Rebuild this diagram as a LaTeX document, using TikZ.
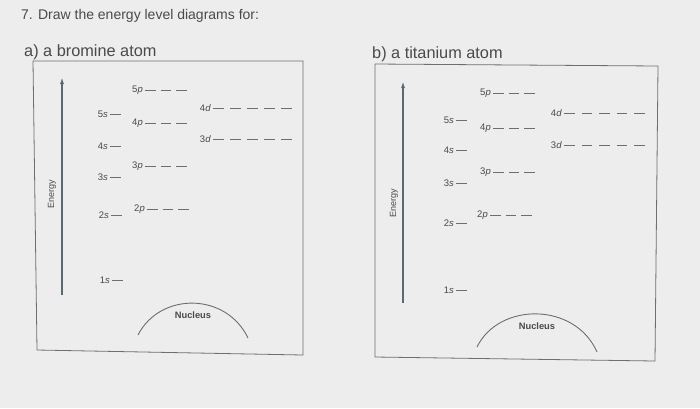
\documentclass[tikz,border=0pt]{standalone}
\usepackage{fontspec}
\setmainfont{Liberation Sans}
\usetikzlibrary{arrows.meta}
\definecolor{bg}{HTML}{EDEDED}
\definecolor{ink}{HTML}{4A4A4A}
\definecolor{linec}{HTML}{6E6E6E}
\definecolor{axisc}{HTML}{5C6870}
\tikzset{
  lab/.style={font=\fontsize{9.5}{10}\selectfont, text=ink, inner sep=1pt, anchor=east},
  lvl/.style={draw=linec, line width=0.9pt},
  frame/.style={draw=linec, line width=0.8pt},
  axis/.style={draw=axisc, line width=1.4pt, -{Latex[length=7pt,width=4pt]}},
  title/.style={font=\fontsize{14}{16}\selectfont, text=ink, inner sep=0pt, anchor=base west},
  subtitle/.style={font=\fontsize{16.3}{18}\selectfont, text=ink, inner sep=0pt, anchor=base west},
  nuc/.style={font=\bfseries\fontsize{9.3}{10}\selectfont, text=ink, inner sep=0pt},
  enlab/.style={font=\fontsize{9}{10}\selectfont, text=ink, inner sep=0pt, rotate=90},
}
% #1 name, #2 x, #3 y, #4 label, #5 number of dashes, #6 spacing
\newcommand\lev[6]{%
  \node[lab] (#1) at (#2,#3) {#4};
  \foreach \k in {1,...,#5} {\draw[lvl] ({#2+1+(\k-1)*#6},#3) -- ++(10.5,0);}
}
\begin{document}
\begin{tikzpicture}[x=1pt,y=-1pt]
\fill[bg] (0,0) rectangle (700,408);
\useasboundingbox (0,0) rectangle (700,408);

\node[title] (q) at (21,19) {7. Draw the energy level diagrams for:};
\node[subtitle] (ta) at (24,56) {a) a bromine atom};
\node[subtitle] (tb) at (372,58) {b) a titanium atom};

% frames
\draw[frame] (33,61) -- (303,61) -- (303,355) -- (37,350) -- cycle;
\draw[frame] (375,64) -- (658,66) -- (655,361) -- (375,357) -- cycle;

% ---- bromine ----
\coordinate (aB) at (62,295);
\coordinate (aT) at (62,77);
\draw[axis] (aB) -- (aT);
\node[enlab] (aE) at (52,194) {Energy};

\lev{a5p}{144}{90}{5\textit{p}}{3}{15.5}
\lev{a4p}{144}{123}{4\textit{p}}{3}{15.5}
\lev{a3p}{144}{166}{3\textit{p}}{3}{15.5}
\lev{a2p}{146}{209}{2\textit{p}}{3}{15.5}
\lev{a5s}{109}{114}{5\textit{s}}{1}{15}
\lev{a4s}{109}{146}{4\textit{s}}{1}{15}
\lev{a3s}{109}{177}{3\textit{s}}{1}{15}
\lev{a2s}{110}{215}{2\textit{s}}{1}{15}
\lev{a1s}{111}{280}{1\textit{s}}{1}{15}
\lev{a4d}{212}{108}{4\textit{d}}{5}{17}
\lev{a3d}{212}{139}{3\textit{d}}{5}{17}

\coordinate (aNl) at (138,335);
\coordinate (aNr) at (248,338);
\draw[lvl] (aNl) .. controls (160,292) and (226,292) .. (aNr);
\node[nuc] (aN) at (193,315) {Nucleus};

% ---- titanium ----
\coordinate (bB) at (403,303);
\coordinate (bT) at (403,81);
\draw[axis] (bB) -- (bT);
\node[enlab] (bE) at (394,203) {Energy};

\lev{b5p}{492}{93}{5\textit{p}}{3}{15.5}
\lev{b4p}{492}{128}{4\textit{p}}{3}{15.5}
\lev{b3p}{492}{172}{3\textit{p}}{3}{15.5}
\lev{b2p}{489}{215}{2\textit{p}}{3}{15.5}
\lev{b5s}{455}{120}{5\textit{s}}{1}{15}
\lev{b4s}{455}{150}{4\textit{s}}{1}{15}
\lev{b3s}{455}{183}{3\textit{s}}{1}{15}
\lev{b2s}{455}{223}{2\textit{s}}{1}{15}
\lev{b1s}{455}{290}{1\textit{s}}{1}{15}
\lev{b4d}{563}{113}{4\textit{d}}{5}{17.5}
\lev{b3d}{563}{145}{3\textit{d}}{5}{17.5}

\coordinate (bNl) at (477,347);
\coordinate (bNr) at (597,352);
\draw[lvl] (bNl) .. controls (499,302) and (575,302) .. (bNr);
\node[nuc] (bN) at (537,326) {Nucleus};
\end{tikzpicture}
\end{document}
